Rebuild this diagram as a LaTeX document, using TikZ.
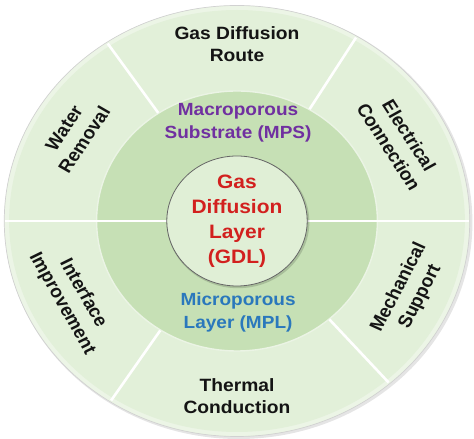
\documentclass[tikz,border=0pt]{standalone}
\usepackage{fontspec}
\setmainfont{Liberation Sans}
\usetikzlibrary{calc}
\definecolor{outerg}{HTML}{E2F0D9}
\definecolor{midg}{HTML}{C6E0B5}
\definecolor{innerg}{HTML}{E0EFD6}
\definecolor{mpspurple}{HTML}{7030A0}
\definecolor{mplblue}{HTML}{2A78BC}
\definecolor{gdlred}{HTML}{D2201E}
\begin{document}
\begin{tikzpicture}[x=1pt,y=1pt,xscale=1.08,transform shape,
  lbl/.style={font=\bfseries\fontsize{17.8}{22}\selectfont, align=center, text=black!92, inner sep=0pt},
  divider/.style={draw=white, line width=2.6pt}]
\useasboundingbox (0,0) rectangle (438.9,439);
\coordinate (c) at (219.4,218);
% outer ring with soft shadow
\fill[black, opacity=0.10] ($(c)+(1.5,-1.5)$) circle (216.5);
\draw[fill=outerg, draw=black!18, line width=0.7pt] (c) circle (215.5);
\fill[white, opacity=0.35] (c) circle (215);
\fill[outerg] (c) circle (211);
% middle ring
\fill[midg] (c) circle (130);
\draw[white!65!midg, line width=1.4pt] (c) circle (130);
% dividers
\draw[divider] ($(c)+(180:215)$) -- ($(c)+(0:215)$);
\foreach \a in {59,124,237,311}
  \draw[divider] ($(c)+(\a:130.5)$) -- ($(c)+(\a:214)$);
% inner circle
\fill[black, opacity=0.15] ($(c)+(1,-1.2)$) circle (66);
\node[circle, draw=black!60, line width=0.8pt, fill=innerg, minimum size=130pt, inner sep=0pt,
      font=\bfseries\fontsize{19.4}{25}\selectfont, align=center, text=gdlred] (gdl) at (c)
      {Gas\\Diffusion\\Layer\\(GDL)};
% middle labels
\node[lbl, text=mpspurple, font=\bfseries\fontsize{17.6}{23}\selectfont] (mps) at ($(c)+(1,98)$) {Macroporous\\Substrate (MPS)};
\node[lbl, text=mplblue, font=\bfseries\fontsize{17.6}{23}\selectfont] (mpl) at ($(c)+(1,-91)$) {Microporous\\Layer (MPL)};
% outer labels
\node[lbl] (route) at ($(c)+(0,177)$) {Gas Diffusion\\Route};
\node[lbl] (thermal) at ($(c)+(0,-175)$) {Thermal\\Conduction};
\node[lbl, rotate=58] (water) at ($(c)+(150:174)$) {Water\\Removal};
\node[lbl, rotate=-59] (elec) at ($(c)+(28:170)$) {Electrical\\Connection};
\node[lbl, rotate=-62] (iface) at ($(c)+(207:171)$) {Interface\\Improvement};
\node[lbl, rotate=64] (mech) at ($(c)+(-24:175)$) {Mechanical\\Support};
\end{tikzpicture}
\end{document}
